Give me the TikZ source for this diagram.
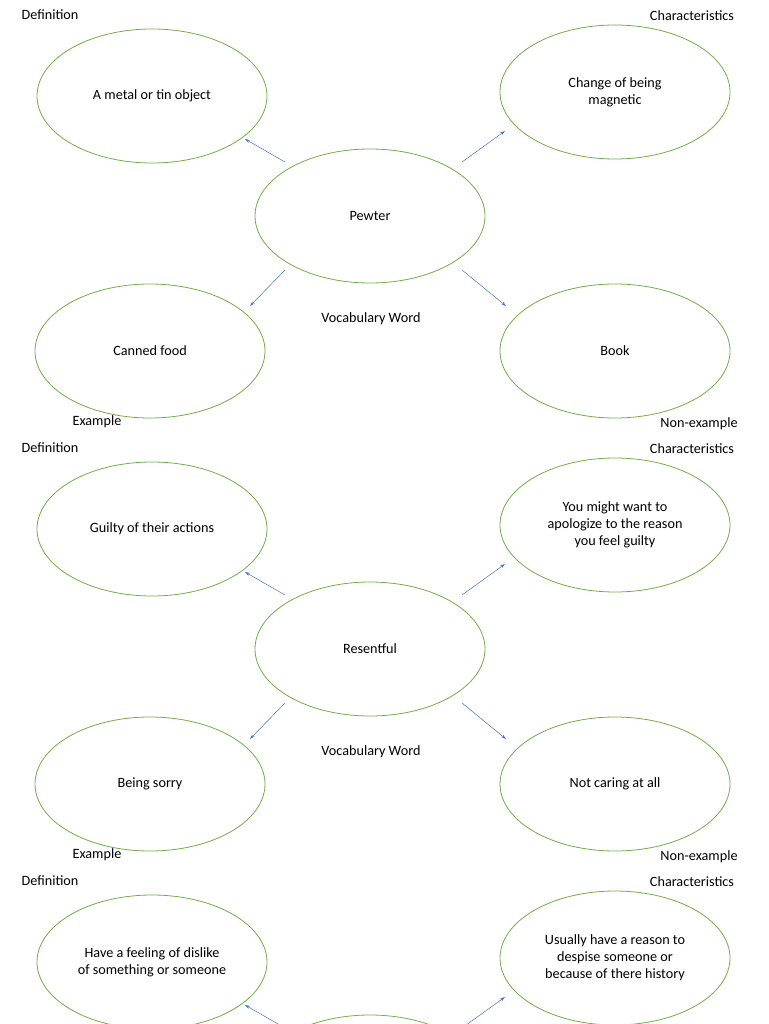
\documentclass[tikz,border=0pt]{standalone}
\usepackage{fontspec}
\setmainfont{Carlito}
\usetikzlibrary{shapes.geometric,arrows.meta}
\definecolor{eg}{RGB}{112,173,71}
\definecolor{ab}{RGB}{68,114,196}
\begin{document}
\begin{tikzpicture}[x=1pt,y=-1pt,
  ov/.style={ellipse,draw=eg,line width=0.8pt,minimum width=230pt,minimum height=134pt,align=center,font=\fontsize{14.2}{17}\selectfont,inner sep=0pt},
  lab/.style={font=\fontsize{14.2}{17}\selectfont,inner sep=0pt},
  ar/.style={draw=ab,line width=0.5pt,-{Stealth[length=5pt,width=3pt]}}]
\useasboundingbox (0,0) rectangle (768,1024);
\clip (0,0) rectangle (768,1024);
\foreach \i/\w/\d/\c/\e/\n in {0/Pewter/A metal or tin object/{Change of being\\magnetic}/Canned food/Book,
  1/Resentful/Guilty of their actions/{You might want to\\apologize to the reason\\you feel guilty}/Being sorry/Not caring at all,
  2/{}/{Have a feeling of dislike\\of something or someone}/{Usually have a reason to\\despise someone or\\because of there history}/{}/{}}{
 \begin{scope}[yshift={-433*\i}]
  \node[ov] (v\i) at (370,216) {\w};
  \node[ov] (d\i) at (152,96) {\d};
  \node[ov] (c\i) at (615,92) {\c};
  \node[lab] (ld\i) at (50,15) {Definition};
  \node[lab] (lc\i) at (692,16) {Characteristics};
  \coordinate (p1\i) at (285,162); \coordinate (q1\i) at (245,139);
  \coordinate (p2\i) at (462,162); \coordinate (q2\i) at (505,131);
  \draw[ar] (p1\i) -- (q1\i);
  \draw[ar] (p2\i) -- (q2\i);
  \ifnum\i<2
  \node[ov] (e\i) at (150,351) {\e};
  \node[ov] (n\i) at (615,351) {\n};
  \node[lab] (lv\i) at (371,319) {Vocabulary Word};
  \node[lab] (le\i) at (97,422) {Example};
  \node[lab] (ln\i) at (699,424) {Non-example};
  \coordinate (p3\i) at (285,270); \coordinate (q3\i) at (250,306);
  \coordinate (p4\i) at (462,270); \coordinate (q4\i) at (506,306);
  \draw[ar] (p3\i) -- (q3\i);
  \draw[ar] (p4\i) -- (q4\i);
  \fi
 \end{scope}}
\end{tikzpicture}
\end{document}
